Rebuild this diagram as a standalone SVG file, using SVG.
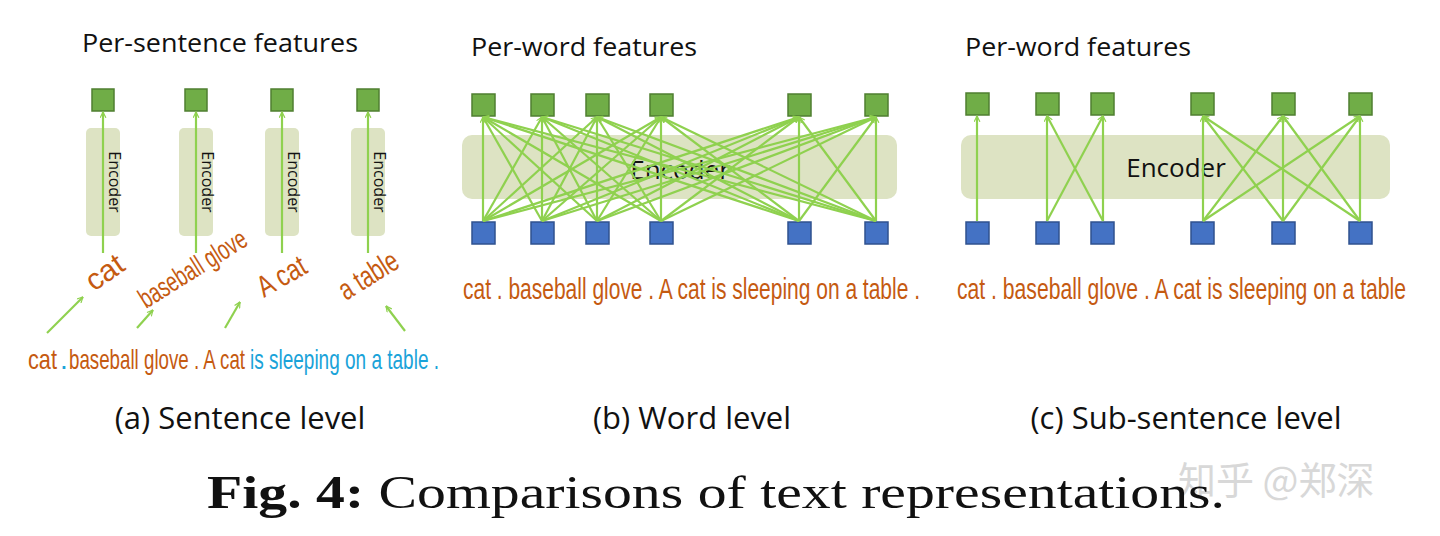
<svg xmlns="http://www.w3.org/2000/svg" width="1440" height="536" viewBox="0 0 1440 536">
<style>
.g{fill:#70AD47;stroke:#4F7F30;stroke-width:1.5}
.b{fill:#4472C4;stroke:#2F528F;stroke-width:1.5}
.enc{fill:#DDE3C3}
.ln{stroke:#8FD14F;stroke-width:2.2;fill:none;marker-end:url(#ah)}
.t{font-family:"Open Sans","Liberation Sans",sans-serif;fill:#111}
.o{font-family:"Liberation Sans Narrow","Liberation Sans",sans-serif;fill:#C55A11}
.bl{font-family:"Liberation Sans Narrow","Liberation Sans",sans-serif;fill:#1AA3D9}
</style>
<defs>
<marker id="ah" viewBox="0 0 12 12" refX="11" refY="6" markerWidth="7" markerHeight="7" orient="auto" markerUnits="userSpaceOnUse">
<path d="M1,1 L11,6 L1,11" fill="none" stroke="#8FD14F" stroke-width="2"/>
</marker>
</defs>
<rect width="1440" height="536" fill="#fff"/>
<!-- panel a -->
<g id="panel-a">
<text class="t" x="82" y="52" font-size="26" textLength="276" lengthAdjust="spacingAndGlyphs">Per-sentence features</text>
<g id="a-enc1"><rect class="enc" x="86" y="128" width="34" height="108" rx="5"/><text class="t" font-size="16" transform="translate(109,182) rotate(90)" text-anchor="middle">Encoder</text></g>
<g id="a-enc2"><rect class="enc" x="179" y="128" width="34" height="108" rx="5"/><text class="t" font-size="16" transform="translate(202,182) rotate(90)" text-anchor="middle">Encoder</text></g>
<g id="a-enc3"><rect class="enc" x="265" y="128" width="34" height="108" rx="5"/><text class="t" font-size="16" transform="translate(288,182) rotate(90)" text-anchor="middle">Encoder</text></g>
<g id="a-enc4"><rect class="enc" x="351" y="128" width="34" height="108" rx="5"/><text class="t" font-size="16" transform="translate(374,182) rotate(90)" text-anchor="middle">Encoder</text></g>
<g id="a-out"><rect class="g" x="92" y="89" width="22" height="22"/><rect class="g" x="185" y="89" width="22" height="22"/><rect class="g" x="271" y="89" width="22" height="22"/><rect class="g" x="357" y="89" width="22" height="22"/></g>
<g id="a-labels">
<text class="o" font-size="30" transform="translate(94,292) rotate(-35)" textLength="40" lengthAdjust="spacingAndGlyphs">cat</text>
<text class="o" font-size="28" transform="translate(146,309) rotate(-32)" textLength="122" lengthAdjust="spacingAndGlyphs">baseball glove</text>
<text class="o" font-size="30" transform="translate(264,298) rotate(-30)" textLength="52" lengthAdjust="spacingAndGlyphs">A cat</text>
<text class="o" font-size="30" transform="translate(346,301) rotate(-32)" textLength="65" lengthAdjust="spacingAndGlyphs">a table</text>
</g>
<text class="o" x="28" y="369" font-size="28" textLength="29" lengthAdjust="spacingAndGlyphs">cat</text>
<text class="bl" x="60" y="369" font-size="28">.</text>
<text class="o" x="69" y="369" font-size="28" textLength="176" lengthAdjust="spacingAndGlyphs">baseball glove . A cat</text>
<text class="bl" x="250" y="369" font-size="28" textLength="189" lengthAdjust="spacingAndGlyphs">is sleeping on a table .</text>
<text class="t" x="240" y="429" font-size="31" text-anchor="middle">(a) Sentence level</text>
</g>
<!-- panel b -->
<g id="panel-b">
<text class="t" x="471" y="56" font-size="26" textLength="226" lengthAdjust="spacingAndGlyphs">Per-word features</text>
<g id="b-enc"><rect class="enc" x="462" y="135" width="435" height="64" rx="10"/><text class="t" x="680" y="179" font-size="26" text-anchor="middle">Encoder</text></g>
<g id="b-out"><rect class="g" x="472" y="94" width="23" height="22"/><rect class="g" x="531" y="94" width="23" height="22"/><rect class="g" x="586" y="94" width="23" height="22"/><rect class="g" x="650" y="94" width="23" height="22"/><rect class="g" x="788" y="94" width="23" height="22"/><rect class="g" x="865" y="94" width="23" height="22"/></g>
<g id="b-in"><rect class="b" x="472" y="222" width="23" height="22"/><rect class="b" x="531" y="222" width="23" height="22"/><rect class="b" x="586" y="222" width="23" height="22"/><rect class="b" x="650" y="222" width="23" height="22"/><rect class="b" x="788" y="222" width="23" height="22"/><rect class="b" x="865" y="222" width="23" height="22"/></g>
<text class="o" x="463" y="299" font-size="30" textLength="457" lengthAdjust="spacingAndGlyphs">cat . baseball glove . A cat is sleeping on a table .</text>
<text class="t" x="692" y="429" font-size="31" text-anchor="middle">(b) Word level</text>
</g>
<!-- panel c -->
<g id="panel-c">
<text class="t" x="965" y="56" font-size="26" textLength="226" lengthAdjust="spacingAndGlyphs">Per-word features</text>
<g id="c-enc"><rect class="enc" x="961" y="135" width="429" height="64" rx="10"/><text class="t" x="1176" y="177" font-size="26" text-anchor="middle">Encoder</text></g>
<g id="c-out"><rect class="g" x="966" y="93" width="23" height="22"/><rect class="g" x="1036" y="93" width="23" height="22"/><rect class="g" x="1091" y="93" width="23" height="22"/><rect class="g" x="1191" y="93" width="23" height="22"/><rect class="g" x="1272" y="93" width="23" height="22"/><rect class="g" x="1349" y="93" width="23" height="22"/></g>
<g id="c-in"><rect class="b" x="966" y="222" width="23" height="22"/><rect class="b" x="1036" y="222" width="23" height="22"/><rect class="b" x="1091" y="222" width="23" height="22"/><rect class="b" x="1191" y="222" width="23" height="22"/><rect class="b" x="1272" y="222" width="23" height="22"/><rect class="b" x="1349" y="222" width="23" height="22"/></g>
<text class="o" x="957" y="299" font-size="30" textLength="449" lengthAdjust="spacingAndGlyphs">cat . baseball glove . A cat is sleeping on a table</text>
<text class="t" x="1186" y="429" font-size="31" text-anchor="middle">(c) Sub-sentence level</text>
</g>
<g id="connectors">
<line class="ln" x1="103" y1="253" x2="103" y2="112"/>
<line class="ln" x1="196" y1="253" x2="196" y2="112"/>
<line class="ln" x1="282" y1="253" x2="282" y2="112"/>
<line class="ln" x1="368" y1="253" x2="368" y2="112"/>
<line class="ln" x1="47" y1="333" x2="83" y2="297"/>
<line class="ln" x1="137" y1="328" x2="153" y2="310"/>
<line class="ln" x1="225" y1="328" x2="240" y2="302"/>
<line class="ln" x1="405" y1="331" x2="386" y2="306"/>
<g>
<line class="ln" x1="483" y1="221" x2="483" y2="117"/><line class="ln" x1="483" y1="221" x2="542" y2="117"/><line class="ln" x1="483" y1="221" x2="597" y2="117"/><line class="ln" x1="483" y1="221" x2="661" y2="117"/><line class="ln" x1="483" y1="221" x2="799" y2="117"/><line class="ln" x1="483" y1="221" x2="876" y2="117"/>
<line class="ln" x1="542" y1="221" x2="483" y2="117"/><line class="ln" x1="542" y1="221" x2="542" y2="117"/><line class="ln" x1="542" y1="221" x2="597" y2="117"/><line class="ln" x1="542" y1="221" x2="661" y2="117"/><line class="ln" x1="542" y1="221" x2="799" y2="117"/><line class="ln" x1="542" y1="221" x2="876" y2="117"/>
<line class="ln" x1="597" y1="221" x2="483" y2="117"/><line class="ln" x1="597" y1="221" x2="542" y2="117"/><line class="ln" x1="597" y1="221" x2="597" y2="117"/><line class="ln" x1="597" y1="221" x2="661" y2="117"/><line class="ln" x1="597" y1="221" x2="799" y2="117"/><line class="ln" x1="597" y1="221" x2="876" y2="117"/>
<line class="ln" x1="661" y1="221" x2="483" y2="117"/><line class="ln" x1="661" y1="221" x2="542" y2="117"/><line class="ln" x1="661" y1="221" x2="597" y2="117"/><line class="ln" x1="661" y1="221" x2="661" y2="117"/><line class="ln" x1="661" y1="221" x2="799" y2="117"/><line class="ln" x1="661" y1="221" x2="876" y2="117"/>
<line class="ln" x1="799" y1="221" x2="483" y2="117"/><line class="ln" x1="799" y1="221" x2="542" y2="117"/><line class="ln" x1="799" y1="221" x2="597" y2="117"/><line class="ln" x1="799" y1="221" x2="661" y2="117"/><line class="ln" x1="799" y1="221" x2="799" y2="117"/><line class="ln" x1="799" y1="221" x2="876" y2="117"/>
<line class="ln" x1="876" y1="221" x2="483" y2="117"/><line class="ln" x1="876" y1="221" x2="542" y2="117"/><line class="ln" x1="876" y1="221" x2="597" y2="117"/><line class="ln" x1="876" y1="221" x2="661" y2="117"/><line class="ln" x1="876" y1="221" x2="799" y2="117"/><line class="ln" x1="876" y1="221" x2="876" y2="117"/>
</g>
<g>
<line class="ln" x1="977" y1="221" x2="977" y2="116"/>
<line class="ln" x1="1047" y1="221" x2="1047" y2="116"/><line class="ln" x1="1047" y1="221" x2="1103" y2="116"/>
<line class="ln" x1="1103" y1="221" x2="1047" y2="116"/><line class="ln" x1="1103" y1="221" x2="1103" y2="116"/>
<line class="ln" x1="1203" y1="221" x2="1203" y2="116"/><line class="ln" x1="1203" y1="221" x2="1283" y2="116"/><line class="ln" x1="1203" y1="221" x2="1360" y2="116"/>
<line class="ln" x1="1283" y1="221" x2="1203" y2="116"/><line class="ln" x1="1283" y1="221" x2="1283" y2="116"/><line class="ln" x1="1283" y1="221" x2="1360" y2="116"/>
<line class="ln" x1="1360" y1="221" x2="1203" y2="116"/><line class="ln" x1="1360" y1="221" x2="1283" y2="116"/><line class="ln" x1="1360" y1="221" x2="1360" y2="116"/>
</g>
</g>
<text x="1178" y="494" font-size="38" fill="#D8D8D8" font-family="Noto Sans CJK SC,sans-serif">知乎 @郑深</text>
<text x="207" y="508" font-size="46" font-family="Liberation Serif,serif" fill="#111" textLength="1018" lengthAdjust="spacingAndGlyphs"><tspan font-weight="bold">Fig. 4:</tspan> Comparisons of text representations.</text>
</svg>
